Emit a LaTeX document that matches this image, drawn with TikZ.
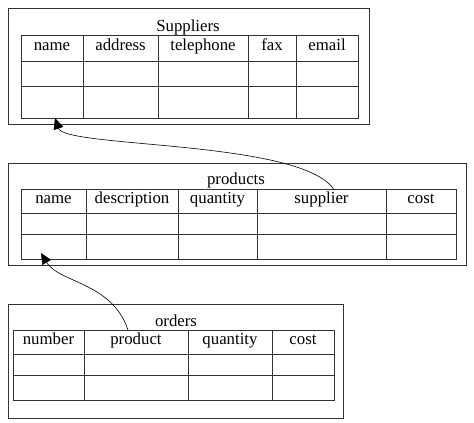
\documentclass[tikz,border=0pt]{standalone}
\usepackage{fontspec}
\setmainfont{Liberation Serif}
\usetikzlibrary{arrows.meta, positioning}

\begin{document}
\begin{tikzpicture}[
        x=1pt, y=-1pt,
        font=\fontsize{16.8}{18}\selectfont,
        every node/.style={inner sep=0pt, outer sep=0pt},
        box/.style={draw=black!80, line width=0.9pt, anchor=north west},
        cell/.style={draw=black!80, line width=0.9pt, anchor=north west, text height=10pt, text depth=6pt},
        arrow/.style={-{Triangle[length=11pt, width=10pt]}, line width=0.6pt}
        ]
        \useasboundingbox (0,0) rectangle (474,423);

        % Suppliers
        \node[box, minimum width=361pt, minimum height=116pt] (Suppliers) at (8,8) {};
        \node (supTitle) at (188,27) {Suppliers};
        \foreach \txt/\xa/\xb [count=\i] in {name/21/83, address/83/158, telephone/158/248, fax/248/296, email/296/358} {
            \pgfmathsetmacro\w{\xb-\xa}
            \node[cell, minimum width=\w pt, minimum height=26pt] (sup-h\i) at (\xa,35) {\txt};
            \node[cell, minimum width=\w pt, minimum height=25pt] (sup-a\i) at (\xa,61) {};
            \node[cell, minimum width=\w pt, minimum height=32pt] (sup-b\i) at (\xa,86) {};
        }

        % products
        \node[box, minimum width=458pt, minimum height=102pt] (products) at (8,163) {};
        \node (prodTitle) at (236,180) {products};
        \foreach \txt/\xa/\xb [count=\i] in {name/21/86, description/86/178, quantity/178/257, supplier/257/386, cost/386/456} {
            \pgfmathsetmacro\w{\xb-\xa}
            \node[cell, minimum width=\w pt, minimum height=24pt] (prod-h\i) at (\xa,189) {\txt};
            \node[cell, minimum width=\w pt, minimum height=21pt] (prod-a\i) at (\xa,213) {};
            \node[cell, minimum width=\w pt, minimum height=25pt] (prod-b\i) at (\xa,234) {};
        }

        % orders
        \node[box, minimum width=335pt, minimum height=114pt] (orders) at (8,304) {};
        \node (ordTitle) at (176,321) {orders};
        \foreach \txt/\xa/\xb [count=\i] in {number/13/84, product/84/188, quantity/188/272, cost/272/334} {
            \pgfmathsetmacro\w{\xb-\xa}
            \node[cell, minimum width=\w pt, minimum height=24pt] (ord-h\i) at (\xa,330) {\txt};
            \node[cell, minimum width=\w pt, minimum height=21pt] (ord-a\i) at (\xa,354) {};
            \node[cell, minimum width=\w pt, minimum height=25pt] (ord-b\i) at (\xa,375) {};
        }

        % Arrows
        \draw [arrow] ([xshift=12pt]prod-h4.north) .. controls (300,140) and (65,148) .. ([xshift=3pt]sup-b1.south);
        \draw [arrow] ([xshift=-8pt]ord-h2.north) .. controls (112,282) and (59,283) .. ([xshift=-12.5pt, yshift=6pt]prod-b1.south);
    \end{tikzpicture}
\end{document}
